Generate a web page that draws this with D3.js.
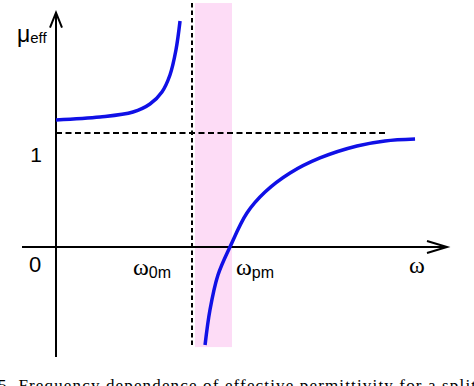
<!DOCTYPE html>
<html>
<head>
<meta charset="utf-8">
<script src="https://cdn.jsdelivr.net/npm/d3@7"></script>
<style>
  body { margin: 0; background: #fff; }
  svg { display: block; }
</style>
</head>
<body>
<svg width="474" height="386"></svg>
<script>
// values (omega in units of w0m, mu_eff)
const lowOmega = [0, 0.324, 0.566, 0.691, 0.779, 0.838, 0.882, 0.912];
const lowMu = [1.114, 1.140, 1.184, 1.254, 1.360, 1.509, 1.728, 1.982];
const highOmega = [1.096, 1.132, 1.191, 1.279, 1.404, 1.537, 1.721, 1.941, 2.213, 2.419, 2.640];
const highMu = [-0.860, -0.553, -0.246, 0, 0.298, 0.482, 0.649, 0.781, 0.886, 0.930, 0.947];
const omega0m = 1;
const omegaPm = 1.279;
const bandRange = [1.022, 1.294];
const muLimit = 1;

const svg = d3.select('svg');

var x = d3.scaleLinear().domain([0, 1]).range([56, 192]);
var y = d3.scaleLinear().domain([0, 1]).range([247, 133]);

// pink band (negative mu region)
svg.append('rect')
  .attr('x', x(bandRange[0]))
  .attr('y', y(2.14))
  .attr('width', x(bandRange[1]) - x(bandRange[0]))
  .attr('height', y(-0.878) - y(2.14))
  .attr('fill', '#fddcf6');

// axes
svg.append('line')
  .attr('x1', x(-0.25)).attr('x2', x(2.87))
  .attr('y1', y(0)).attr('y2', y(0))
  .attr('stroke', '#000').attr('stroke-width', 2);
svg.append('line')
  .attr('x1', x(0)).attr('x2', x(0))
  .attr('y1', y(-0.965)).attr('y2', y(2.055))
  .attr('stroke', '#000').attr('stroke-width', 2);

// arrow heads
svg.append('path')
  .attr('d', `M${x(0) - 6},${y(2.055) + 15} L${x(0)},${y(2.055)} L${x(0) + 6},${y(2.055) + 15}`)
  .attr('fill', 'none').attr('stroke', '#000').attr('stroke-width', 2);
svg.append('path')
  .attr('d', `M${x(2.875) - 20},${y(0) - 6} L${x(2.875)},${y(0)} L${x(2.875) - 20},${y(0) + 6}`)
  .attr('fill', 'none').attr('stroke', '#000').attr('stroke-width', 2);

// dashed guides
svg.append('line')
  .attr('x1', x(0)).attr('x2', x(2.434))
  .attr('y1', y(muLimit)).attr('y2', y(muLimit))
  .attr('stroke', '#000').attr('stroke-width', 1.8)
  .attr('stroke-dasharray', '6,3.5');
svg.append('line')
  .attr('x1', x(omega0m)).attr('x2', x(omega0m))
  .attr('y1', y(2.14)).attr('y2', y(-0.886))
  .attr('stroke', '#000').attr('stroke-width', 2)
  .attr('stroke-dasharray', '4.5,3');

// curves
var line = d3.line()
  .x((d) => x(d[0]))
  .y((d) => y(d[1]))
  .curve(d3.curveCatmullRom.alpha(0.5));

svg.append('path')
  .datum(d3.zip(lowOmega, lowMu))
  .attr('d', line)
  .attr('fill', 'none').attr('stroke', '#1010e6').attr('stroke-width', 3.5);
svg.append('path')
  .datum(d3.zip(highOmega, highMu))
  .attr('d', line)
  .attr('fill', 'none').attr('stroke', '#1010e6').attr('stroke-width', 3.5);

// labels
const sans = 'Liberation Sans, Arial, sans-serif';
const serif = 'Liberation Serif, Times New Roman, serif';

var mu = svg.append('text').attr('x', 17).attr('y', 42).attr('font-family', sans).attr('fill', '#000');
mu.append('tspan').attr('font-size', 23).text('μ');
mu.append('tspan').attr('font-size', 15).attr('dy', 1).text('eff');

svg.append('text').attr('x', 36).attr('y', y(1) + 29)
  .attr('text-anchor', 'middle').attr('font-family', sans).attr('font-size', 21)
  .text('1');
svg.append('text').attr('x', 35).attr('y', y(0) + 25)
  .attr('text-anchor', 'middle').attr('font-family', sans).attr('font-size', 22)
  .text('0');

function omegaLabel(px, py, sub) {
  var t = svg.append('text').attr('x', px).attr('y', py).attr('fill', '#000');
  t.append('tspan').attr('font-family', serif).attr('font-size', 24).text('ω');
  if (sub) {
    t.append('tspan').attr('font-family', sans).attr('font-size', 16).attr('dy', 3).text(sub);
  }
}
omegaLabel(x(omega0m) - 59, y(0) + 28, '0m');
omegaLabel(x(omegaPm) + 6, y(0) + 28, 'pm');
omegaLabel(409, y(0) + 26, '');

// caption, cut off by the bottom edge as in the source figure
svg.append('text')
  .attr('x', -2).attr('y', 391)
  .attr('font-family', serif).attr('font-size', 17)
  .attr('textLength', 478).attr('lengthAdjust', 'spacing')
  .text('5. Frequency dependence of effective permittivity for a split');
</script>
</body>
</html>
